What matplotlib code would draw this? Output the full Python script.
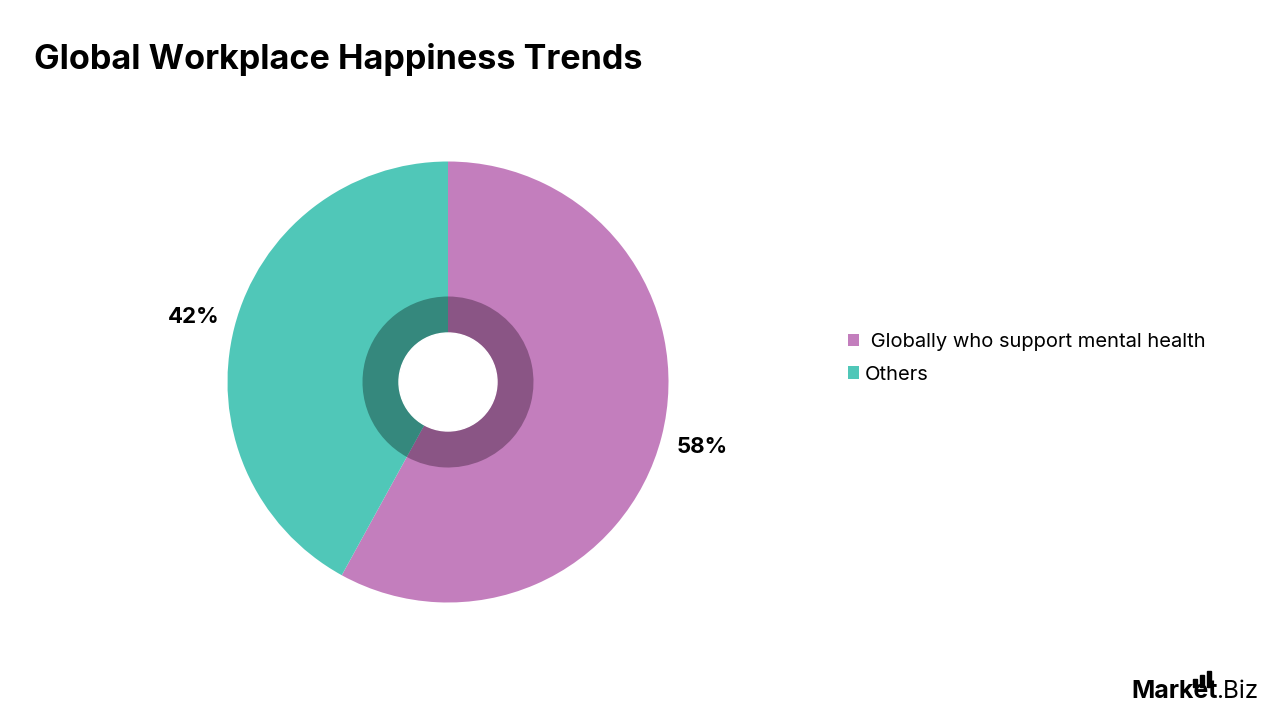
import matplotlib.pyplot as plt
from matplotlib.patches import Rectangle, Circle

# data
labels = ["Globally who support mental health", "Others"]
values = [58, 42]
colors = ["#C37EBD", "#50C7B8"]
inner_colors = ["#8A5585", "#35887D"]

W, H = 1280, 720
plt.rcParams['font.family'] = ['Inter', 'DejaVu Sans']

fig = plt.figure(figsize=(12.8, 7.2), dpi=100)
ax = fig.add_axes([0, 0, 1, 1])

cx, cy = 448, H - 382
R = 220.5

# outer pie with percentage labels
wedges, _, autotexts = ax.pie(values, colors=colors, startangle=90, counterclock=False,
                              center=(cx, cy), radius=R, autopct='%d%%',
                              pctdistance=1.19, wedgeprops=dict(linewidth=0))
for t in autotexts:
    t.set_fontsize(16)
    t.set_fontweight('bold')
    t.set_color('black')

# darker inner ring
ax.pie(values, colors=inner_colors, startangle=90, counterclock=False,
       center=(cx, cy), radius=85.5, wedgeprops=dict(width=36.5, linewidth=0))
ax.add_patch(Circle((cx, cy), 49, color='white', zorder=5))

ax.set_xlim(0, W)
ax.set_ylim(0, H)
ax.set_aspect('equal')
ax.axis('off')

# title
fig.text(34 / W, 1 - 59 / H, "Global Workplace Happiness Trends",
         fontsize=24.6, fontweight='bold', va='center', ha='left')

# legend
leg_labels = [" " + labels[0], labels[1]]
fig.legend(wedges, leg_labels, loc='upper left', bbox_to_anchor=(830 / W, 1 - 315 / H),
           frameon=False, fontsize=14.5, handlelength=0.55, handleheight=0.55,
           handletextpad=0.3, labelspacing=0.72)

# logo
fig.text(1131 / W, 1 - 698 / H, "Market", fontsize=18, fontweight='bold', va='baseline', ha='left')
fig.text(1216 / W, 1 - 698 / H, ".Biz", fontsize=17.5, va='baseline', ha='left')
for bx, top in [(1193, 679), (1200, 675), (1207, 671)]:
    fig.patches.append(Rectangle((bx / W, 1 - 687 / H), 4 / W, (687 - top) / H,
                                 transform=fig.transFigure, color='black'))

fig.savefig("out.png", dpi=100)
